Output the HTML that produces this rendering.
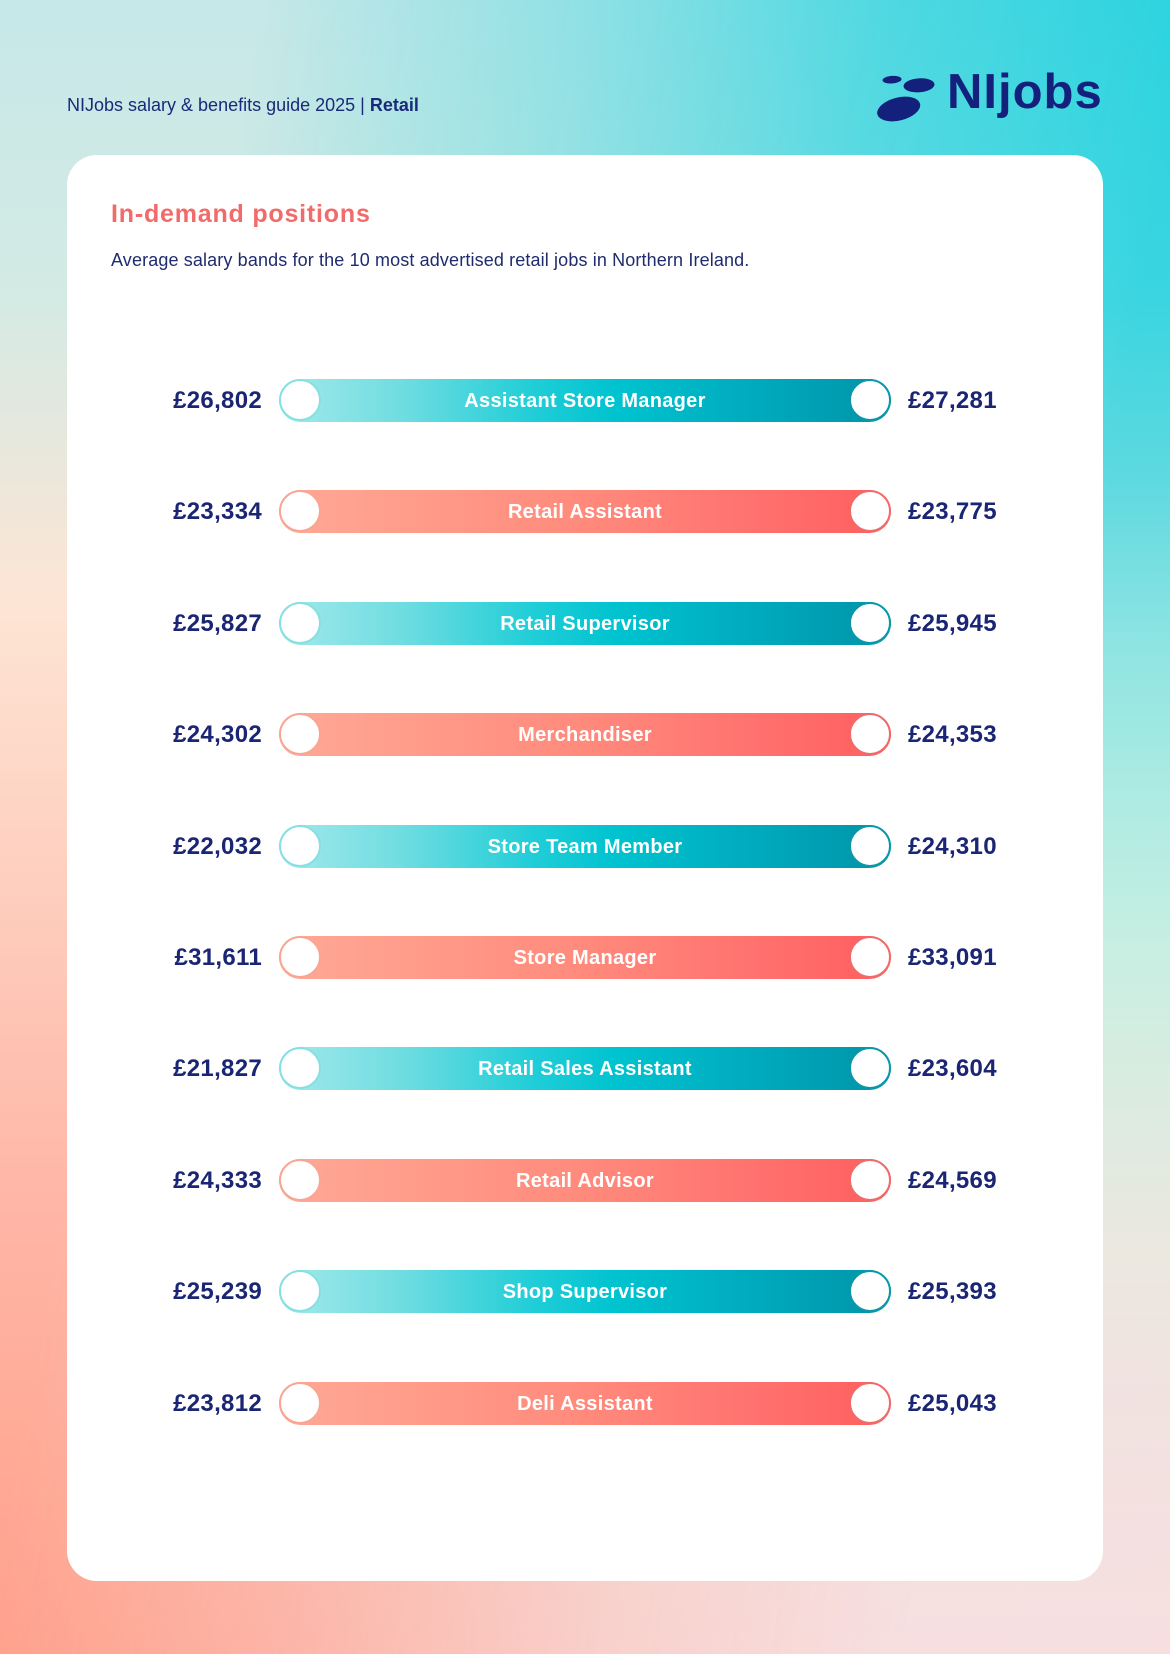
<!DOCTYPE html>
<html><head><meta charset="utf-8">
<style>
html,body{margin:0;padding:0;}
body{width:1170px;height:1654px;position:relative;overflow:hidden;font-family:"Liberation Sans",Arial,sans-serif;
background:linear-gradient(180deg,#c6e8e8 0px,#d4eae4 300px,#fde5d5 600px,#fecdbd 900px,#ffb6a6 1200px,#ffa08b 1654px);}
.ov{position:absolute;left:0;top:0;width:1170px;height:1654px;
background:linear-gradient(180deg,#2ad3df 0px,#3ad5e0 300px,#5ed9e0 480px,#8de4e2 640px,#aeebe3 800px,#c8efe2 950px,#dcebe0 1100px,#ebe8e0 1250px,#f1e2e0 1400px,#f7dfe0 1654px);
-webkit-mask-image:linear-gradient(99.8deg,rgba(0,0,0,0) 18%,rgba(0,0,0,0.35) 40%,rgba(0,0,0,0.76) 61%,#000 82%);
mask-image:linear-gradient(99.8deg,rgba(0,0,0,0) 18%,rgba(0,0,0,0.35) 40%,rgba(0,0,0,0.76) 61%,#000 82%);}
.hdr{position:absolute;left:67px;top:96px;font-size:18px;line-height:18px;color:#1b2a78;white-space:nowrap;}
.hdr b{font-weight:bold;}
.logo{position:absolute;left:947px;top:67.5px;font-size:49px;line-height:49px;font-weight:bold;color:#13217c;letter-spacing:1px;white-space:nowrap;}
.card{position:absolute;left:67px;top:155px;width:1036px;height:1426px;background:#fff;border-radius:30px;}
.title{position:absolute;left:111px;top:202px;font-size:25px;line-height:25px;font-weight:bold;color:#f26b6b;letter-spacing:0.8px;white-space:nowrap;}
.sub{position:absolute;left:111px;top:251px;font-size:18px;line-height:18px;color:#1f2b6e;letter-spacing:0.13px;white-space:nowrap;}
.row{position:absolute;left:0;width:1170px;height:43px;}
.lv{position:absolute;left:60px;width:202px;text-align:right;top:0;height:43px;line-height:43px;font-size:24px;font-weight:bold;color:#1a2573;letter-spacing:0.3px;}
.rv{position:absolute;left:908px;top:0;height:43px;line-height:43px;font-size:24px;font-weight:bold;color:#1a2573;letter-spacing:0.3px;white-space:nowrap;}
.bar{position:absolute;left:279px;top:0;width:612px;height:43px;border-radius:21.5px;}
.teal{background:linear-gradient(90deg,#a3e9ea 0%,#6fdde1 20%,#1fcdd7 42%,#00c3d0 55%,#00aabd 78%,#0093a8 100%);}
.coral{background:linear-gradient(90deg,#ffa996 0%,#ff9a88 25%,#ff8a7c 50%,#ff7470 75%,#ff5e5e 100%);}
.c{position:absolute;top:0;width:38px;height:38px;border-radius:50%;background:#fff;border:2.5px solid #000;}
.cl{left:0;}
.cr{right:0;}
.teal .cl{border-color:#86dfe2;}
.teal .cr{border-color:#0a97a9;}
.coral .cl{border-color:#f8a594;}
.coral .cr{border-color:#f06a6a;}
.lab{position:absolute;left:0;width:612px;top:1px;height:43px;line-height:43px;text-align:center;color:#fff;font-size:20px;font-weight:bold;letter-spacing:0.3px;white-space:nowrap;}
</style></head><body>
<div class="ov"></div>
<div class="hdr">NIJobs salary &amp; benefits guide 2025 | <b>Retail</b></div>
<svg style="position:absolute;left:870px;top:65px" width="80" height="65" viewBox="870 65 80 65">
<ellipse cx="892" cy="79.7" rx="9.5" ry="3.8" transform="rotate(-4 892 79.7)" fill="#13217c"/>
<ellipse cx="919" cy="85.3" rx="15.5" ry="7" transform="rotate(-4 919 85.3)" fill="#13217c"/>
<ellipse cx="898.7" cy="109" rx="22" ry="11.5" transform="rotate(-14 898.7 109)" fill="#13217c"/>
</svg>
<div class="logo">NIjobs</div>
<div class="card"></div>
<div class="title">In-demand positions</div>
<div class="sub">Average salary bands for the 10 most advertised retail jobs in Northern Ireland.</div>

<div class="row" style="top:379px"><div class="lv">£26,802</div><div class="bar teal"><div class="lab">Assistant Store Manager</div><div class="c cl"></div><div class="c cr"></div></div><div class="rv">£27,281</div></div>
<div class="row" style="top:490.4px"><div class="lv">£23,334</div><div class="bar coral"><div class="lab">Retail Assistant</div><div class="c cl"></div><div class="c cr"></div></div><div class="rv">£23,775</div></div>
<div class="row" style="top:601.8px"><div class="lv">£25,827</div><div class="bar teal"><div class="lab">Retail Supervisor</div><div class="c cl"></div><div class="c cr"></div></div><div class="rv">£25,945</div></div>
<div class="row" style="top:713.2px"><div class="lv">£24,302</div><div class="bar coral"><div class="lab">Merchandiser</div><div class="c cl"></div><div class="c cr"></div></div><div class="rv">£24,353</div></div>
<div class="row" style="top:824.6px"><div class="lv">£22,032</div><div class="bar teal"><div class="lab">Store Team Member</div><div class="c cl"></div><div class="c cr"></div></div><div class="rv">£24,310</div></div>
<div class="row" style="top:936px"><div class="lv">£31,611</div><div class="bar coral"><div class="lab">Store Manager</div><div class="c cl"></div><div class="c cr"></div></div><div class="rv">£33,091</div></div>
<div class="row" style="top:1047.4px"><div class="lv">£21,827</div><div class="bar teal"><div class="lab">Retail Sales Assistant</div><div class="c cl"></div><div class="c cr"></div></div><div class="rv">£23,604</div></div>
<div class="row" style="top:1158.8px"><div class="lv">£24,333</div><div class="bar coral"><div class="lab">Retail Advisor</div><div class="c cl"></div><div class="c cr"></div></div><div class="rv">£24,569</div></div>
<div class="row" style="top:1270.2px"><div class="lv">£25,239</div><div class="bar teal"><div class="lab">Shop Supervisor</div><div class="c cl"></div><div class="c cr"></div></div><div class="rv">£25,393</div></div>
<div class="row" style="top:1381.6px"><div class="lv">£23,812</div><div class="bar coral"><div class="lab">Deli Assistant</div><div class="c cl"></div><div class="c cr"></div></div><div class="rv">£25,043</div></div>
</body></html>
